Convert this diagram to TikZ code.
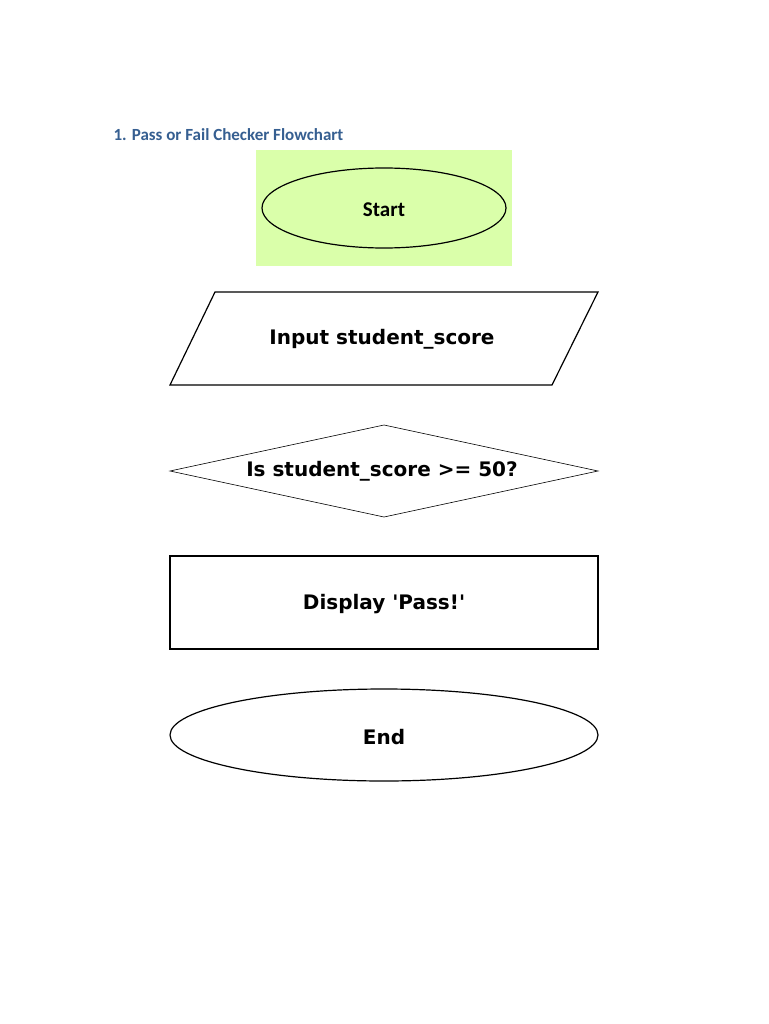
\documentclass[tikz,border=0pt]{standalone}
\usepackage{fontspec}
\setmainfont[Ligatures=NoCommon]{DejaVu Sans}
\newfontfamily\carl{Carlito}
\definecolor{titleblue}{RGB}{54,95,145}
\definecolor{startgreen}{RGB}{218,255,170}
\begin{document}
\begin{tikzpicture}[x=1pt,y=-1pt,
  shp/.style={draw=black,line width=1.2pt},
  lbl/.style={font=\bfseries\fontsize{20}{24}\selectfont}]
\useasboundingbox (0,0) rectangle (768,1024);
\fill[white] (0,0) rectangle (768,1024);
\node[anchor=west,text=titleblue,font=\carl\bfseries\fontsize{17}{20}\selectfont] (title) at (110,135) {1. Pass or Fail Checker Flowchart};
\fill[startgreen] (256,150) rectangle (512,266);
\draw[shp,fill=startgreen] (384,208) ellipse [x radius=122, y radius=40];
\node[font=\carl\bfseries\fontsize{21}{24}\selectfont] (start) at (384,210) {Start};
\draw[shp,fill=white] (215,292) -- (598,292) -- (552,385) -- (170,385) -- cycle;
\node[lbl] (input) at (382,339) {Input student\_score};
\draw[shp,line width=0.6pt,fill=white] (170,471) -- (384,425) -- (598,471) -- (384,517) -- cycle;
\node[lbl] (dec) at (382,471) {Is student\_score >= 50?};
\draw[shp,fill=white] (170,556) rectangle (598,649);
\node[lbl] (disp) at (384,604) {Display \textquotesingle Pass!\textquotesingle};
\draw[shp,fill=white] (384,735) ellipse [x radius=214, y radius=46];
\node[lbl] (end) at (384,737) {End};
\end{tikzpicture}
\end{document}
